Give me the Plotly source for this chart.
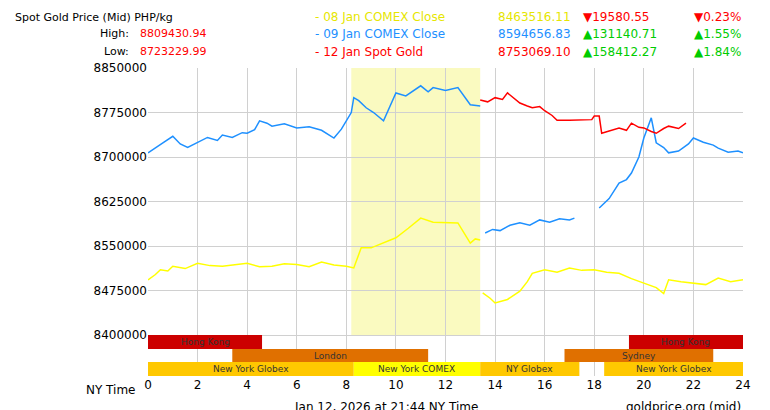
import plotly.graph_objects as go

blue1_x = [0,0.3,0.6,1,1.3,1.6,2,2.4,2.8,3,3.4,3.8,4,4.3,4.5,4.8,5,5.5,6,6.5,7,7.3,7.5,7.8,8,8.2,8.3,8.5,8.8,9.1,9.5,9.8,10,10.4,10.8,11,11.3,11.5,12,12.5,13,13.4]
blue1_y = [8707,8716,8724,8735,8722,8716,8724,8733,8728,8737,8733,8741,8740,8746,8761,8757,8752,8756,8749,8751,8745,8738,8732,8747,8762,8775,8800,8795,8783,8775,8761,8790,8808,8803,8815,8820,8810,8817,8812,8817,8788,8786]
blue2_x = [13.6,13.9,14.2,14.6,15,15.4,15.8,16.2,16.6,17,17.2]
blue2_y = [8572,8578,8576,8585,8589,8585,8594,8590,8596,8594,8597]
blue3_x = [18.2,18.6,19,19.3,19.5,19.8,20,20.2,20.3,20.5,20.8,21,21.4,21.8,22,22.4,22.8,23,23.4,23.8,24]
blue3_y = [8614,8630,8656,8662,8673,8700,8732,8755,8766,8724,8716,8707,8710,8722,8732,8725,8720,8715,8708,8710,8707]
red_x = [13.4,13.7,14,14.3,14.5,14.8,15,15.3,15.5,15.8,16,16.3,16.5,17,17.5,17.9,18,18.2,18.3,18.7,19,19.3,19.5,19.8,20,20.3,20.5,20.8,21,21.4,21.7]
red_y = [8796,8793,8800,8797,8808,8797,8791,8786,8783,8785,8778,8770,8762,8762,8762,8763,8769,8769,8740,8745,8749,8745,8757,8750,8749,8743,8740,8748,8752,8748,8757]
yel1_x = [0,0.3,0.5,0.8,1,1.5,2,2.5,3,3.5,4,4.5,5,5.5,6,6.5,7,7.5,8,8.3,8.6,9,9.5,10,10.5,11,11.5,12,12.5,13,13.2,13.4]
yel1_y = [8493,8502,8510,8508,8516,8512,8521,8517,8516,8519,8521,8515,8516,8520,8519,8515,8523,8518,8516,8513,8547,8547,8555,8564,8580,8597,8590,8589,8589,8555,8562,8560]
yel2_x = [13.5,13.8,14,14.5,15,15.3,15.5,15.8,16,16.5,17,17.5,18,18.5,19,19.5,20,20.5,20.8,21,21.5,22,22.5,23,23.5,24]
yel2_y = [8471,8462,8454,8460,8474,8490,8504,8508,8510,8506,8513,8509,8510,8506,8504,8495,8488,8480,8470,8493,8490,8488,8485,8496,8490,8493]

ticks = list(range(0, 25, 2))
yticks = [8400000, 8475000, 8550000, 8625000, 8700000, 8775000, 8850000]

BLUE, RED, YEL = "#1e90ff", "#ff0000", "#ffff00"
fig = go.Figure()
def k(v): return [a*1000 for a in v]
for xs, ys, c in [(yel1_x, yel1_y, YEL), (yel2_x, yel2_y, YEL), (blue1_x, blue1_y, BLUE),
                  (blue2_x, blue2_y, BLUE), (blue3_x, blue3_y, BLUE), (red_x, red_y, RED)]:
    fig.add_trace(go.Scatter(x=xs, y=k(ys), mode="lines", line=dict(color=c, width=1.5), showlegend=False))

shapes = [dict(type="rect", x0=8.2, x1=13.4, y0=8400000, y1=8850000, fillcolor="#fafac0", line_width=0, layer="below")]
sessions = [
    (0, 4.6, 8376400, 8400000, "#cc0000", "Hong Kong"), (19.4, 24, 8376400, 8400000, "#cc0000", "Hong Kong"),
    (3.4, 11.3, 8354500, 8376400, "#e07000", "London"), (16.8, 22.8, 8354500, 8376400, "#e07000", "Sydney"),
    (0, 8.3, 8331000, 8354500, "#ffc800", "New York Globex"), (8.3, 13.4, 8331000, 8354500, "#ffff00", "New York COMEX"),
    (13.4, 17.4, 8331000, 8354500, "#ffc800", "NY Globex"), (18.4, 24, 8331000, 8354500, "#ffc800", "New York Globex")]
ann = []
for x0, x1, y0, y1, c, t in sessions:
    shapes.append(dict(type="rect", x0=x0, x1=x1, y0=y0, y1=y1, fillcolor=c, line_width=0, layer="above"))
    ann.append(dict(x=(x0+x1)/2, y=(y0+y1)/2, text=t, showarrow=False, font=dict(size=9, color="#333")))

F = "DejaVu Sans"
def pa(x, y, t, c, xa="left", size=11):
    ann.append(dict(xref="paper", yref="paper", x=x, y=y, text=t, showarrow=False, xanchor=xa, yanchor="middle", font=dict(size=size, color=c, family=F)))
def px(p): return (p-140)/595
def py(p): return (368-p)/308
pa(px(5), py(9), "Spot Gold Price (Mid) PHP/kg", "#000")
pa(px(123), py(26), "High:", "#000", "right")
pa(px(130), py(26), "8809430.94", "#f00")
pa(px(123), py(44), "Low:", "#000", "right")
pa(px(130), py(44), "8723229.99", "#f00")
rows = [("- 08 Jan COMEX Close", "8463516.11", "#e6e600", "▼19580.55", "▼0.23%", "#f00", 9),
        ("- 09 Jan COMEX Close", "8594656.83", "#1e90ff", "▲131140.71", "▲1.55%", "#0c0", 26),
        ("- 12 Jan Spot Gold", "8753069.10", "#f00", "▲158412.27", "▲1.84%", "#0c0", 44)]
for lab, val, c, ch, pc, cc, yy in rows:
    pa(px(305), py(yy), lab, c, size=12)
    pa(px(565), py(yy), val, c, "right", size=12)
    pa(px(573), py(yy), ch, cc, size=12)
    pa(px(735), py(yy), pc, cc, "right", size=12)
pa(px(130), py(382), "NY Time", "#000", "right", size=12)
pa(px(378), py(399), "Jan 12, 2026 at 21:44 NY Time", "#000", "center", size=12)
pa(px(735), py(399), "goldprice.org (mid)", "#000", "right", size=12)

fig.update_layout(width=770, height=410, margin=dict(l=140, r=35, t=60, b=42, autoexpand=False),
    plot_bgcolor="white", paper_bgcolor="white", font=dict(family=F, size=11, color="#000"),
    shapes=shapes, annotations=ann,
    xaxis=dict(range=[0, 24], tickvals=ticks, showgrid=True, gridcolor="#d0d0d0", zeroline=False, ticks="", showline=False, automargin=False, tickfont=dict(size=12)),
    yaxis=dict(range=[8331000, 8850000], tickvals=yticks, tickformat="d", showgrid=True, gridcolor="#d0d0d0", zeroline=False, automargin=False, tickfont=dict(size=12)))
fig.write_html("out.html")
